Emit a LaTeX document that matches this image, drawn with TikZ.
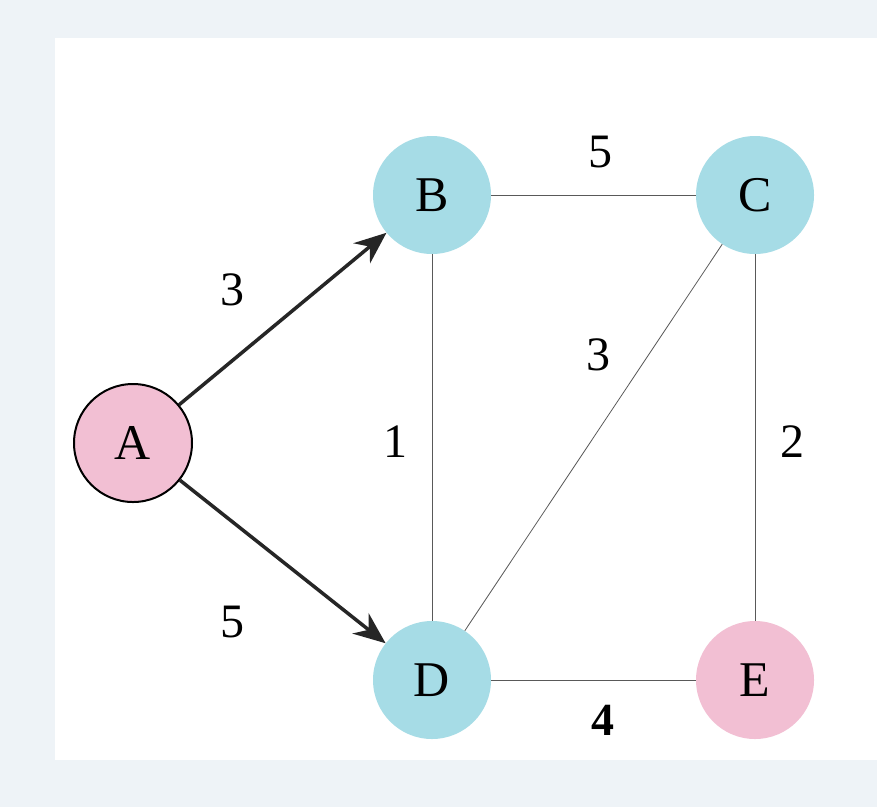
\documentclass[tikz,border=0pt]{standalone}
\usepackage{fontspec}
\setmainfont{Liberation Serif}
\usetikzlibrary{arrows.meta}
\definecolor{cy}{HTML}{A6DCE6}
\definecolor{pk}{HTML}{F2BFD3}
\definecolor{bg}{HTML}{EEF3F7}
\begin{document}
\begin{tikzpicture}[x=1pt,y=-1pt,
  vert/.style={circle,minimum size=118pt,inner sep=0pt,font=\fontsize{50}{54}\selectfont},
  lab/.style={font=\fontsize{48}{52}\selectfont},
  thin/.style={draw=gray!70!black,line width=0.8pt},
  arr/.style={draw=black!85,line width=3.5pt,-{Stealth[length=32pt,width=26pt]}}]
\useasboundingbox (0,0) rectangle (877,807);
\fill[bg] (0,0) rectangle (877,807);
\fill[white] (55,38) rectangle (877,760);
\node[vert,fill=pk,draw=black,line width=2pt] (A) at (133,443) {A};
\node[vert,fill=cy] (B) at (432,195) {B};
\node[vert,fill=cy] (C) at (755,195) {C};
\node[vert,fill=cy] (D) at (432,680) {D};
\node[vert,fill=pk] (E) at (755,680) {E};
\draw[arr] (A) -- (B);
\draw[arr] (A) -- (D);
\draw[thin] (B) -- (C);
\draw[thin] (B) -- (D);
\draw[thin] (C) -- (D);
\draw[thin] (C) -- (E);
\draw[thin] (D) -- (E);
\node[lab] (l1) at (600,152) {5};
\node[lab] (l2) at (232,290) {3};
\node[lab] (l3) at (395,442) {1};
\node[lab] (l4) at (598,355) {3};
\node[lab] (l5) at (792,442) {2};
\node[lab] (l6) at (232,622) {5};
\node[lab,font=\fontsize{46}{50}\selectfont\bfseries] (l7) at (603,720) {4};
\end{tikzpicture}
\end{document}
